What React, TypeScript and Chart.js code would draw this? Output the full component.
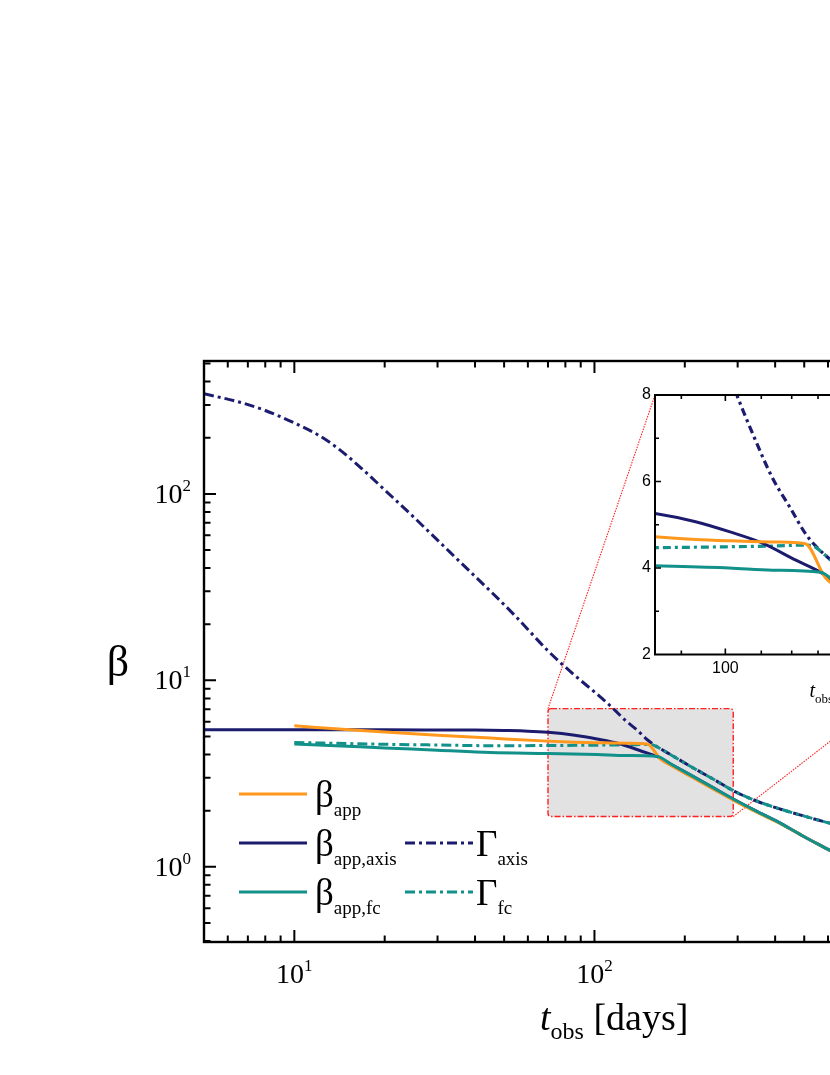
import React, { useEffect, useRef } from "react";
import { Chart, registerables } from "chart.js";

Chart.register(...registerables);

// values (t_obs in days)
const tApp = [10, 15.3, 20, 30, 45, 70, 86, 102, 130, 150, 166, 180, 210, 250, 294, 350, 420, 500, 611, 800];
const betaApp = [5.7, 5.43, 5.28, 5.08, 4.9, 4.72, 4.66, 4.63, 4.6, 4.56, 3.78, 3.5, 3.04, 2.6, 2.25, 1.95, 1.69, 1.45, 1.22, 0.96];

const tAxis = [5, 10, 20, 30, 40, 50, 60, 70, 86, 102, 121, 143, 162, 180, 210, 250, 294, 350, 420, 500, 611, 800];
const betaAxis = [5.43, 5.43, 5.43, 5.42, 5.41, 5.38, 5.34, 5.26, 5.07, 4.84, 4.57, 4.18, 3.9, 3.55, 3.09, 2.64, 2.28, 1.97, 1.7, 1.45, 1.22, 0.96];

const tFc = [10, 15, 20, 30, 45, 70, 102, 127, 162, 180, 210, 250, 294, 350, 420, 500, 611, 800];
const betaFc = [4.56, 4.43, 4.34, 4.22, 4.1, 4.05, 4.0, 3.95, 3.9, 3.55, 3.09, 2.64, 2.28, 1.97, 1.7, 1.45, 1.22, 0.96];

const tGammaAxis = [5, 6.5, 8, 10, 12, 14, 17, 20, 25, 30, 38, 45, 55, 70, 85, 106, 116, 127, 139, 150, 158, 165, 180, 210, 250, 294, 350, 420, 500, 611, 800];
const gammaAxis = [344, 312, 280, 240, 207, 175, 134, 105, 75, 56.5, 39.1, 30.1, 21.8, 14.4, 10.8, 8.0, 7.0, 6.08, 5.39, 4.8, 4.51, 4.32, 3.98, 3.44, 2.94, 2.53, 2.24, 2.03, 1.87, 1.71, 1.53];

const tGammaFc = [10, 15, 20, 30, 45, 70, 100, 130, 150, 158, 165, 180, 210, 250, 294, 350, 420, 500, 611, 800];
const gammaFc = [4.64, 4.58, 4.54, 4.5, 4.46, 4.47, 4.49, 4.51, 4.53, 4.48, 4.32, 3.98, 3.44, 2.94, 2.53, 2.24, 2.03, 1.87, 1.71, 1.53];

// axes
const xRange = [5, 2500];
const yRange = [0.395, 516];
const xMajorTicks = [10, 100, 1000];
const xTickExp = ["1", "2", "3"];
const yMajorTicks = [1, 10, 100];
const yTickExp = ["0", "1", "2"];

// zoomed region (grey box) and inset axes
const zoomT = [70, 290];
const zoomBeta = [1.86, 7.05];
const insetX = [70, 300];
const insetY = [2, 8];
const insetXMajor = [100, 200, 300];
const insetXMinor = [80, 120, 140, 160, 180, 220, 240, 260, 280];
const insetYMajor = [2, 4, 6, 8];
const insetYMinor = [3, 5, 7];

const ORANGE = "#ff981c";
const NAVY = "#1c1c6e";
const TEAL = "#12908a";
const RED = "#ff1f1f";

const SERIF = '"Liberation Serif", "Times New Roman", Times, serif';
const SANS = '"Liberation Sans", Arial, Helvetica, sans-serif';

const MAIN_W = 1100;
const MAIN_H = 1075;
const MAIN_AREA = { left: 204, top: 361, right: 1014, bottom: 942 };
const INSET = { left: 655, top: 395, right: 942, bottom: 654.5 };
const INSET_CANVAS = { x: 560, y: 370, w: 540, h: 360 };

type Run = { text: string; font: string; dy?: number };

function runsWidth(ctx: CanvasRenderingContext2D, runs: Run[]) {
  let w = 0;
  for (const r of runs) {
    ctx.font = r.font;
    w += ctx.measureText(r.text).width;
  }
  return w;
}

function drawRuns(ctx: CanvasRenderingContext2D, x: number, y: number, runs: Run[]) {
  let cx = x;
  for (const r of runs) {
    ctx.font = r.font;
    ctx.fillText(r.text, cx, y + (r.dy || 0));
    cx += ctx.measureText(r.text).width;
  }
}

function pts(xs: number[], ys: number[]) {
  return xs.map((x, i) => ({ x, y: ys[i] }));
}

function makeDatasets(solidW: number, dashW: number, dash: number[]) {
  return [
    { label: "β app,fc", data: pts(tFc, betaFc), borderColor: TEAL, borderWidth: solidW },
    { label: "β app", data: pts(tApp, betaApp), borderColor: ORANGE, borderWidth: solidW },
    { label: "β app,axis", data: pts(tAxis, betaAxis), borderColor: NAVY, borderWidth: solidW },
    { label: "Γ fc", data: pts(tGammaFc, gammaFc), borderColor: TEAL, borderWidth: dashW, borderDash: dash },
    { label: "Γ axis", data: pts(tGammaAxis, gammaAxis), borderColor: NAVY, borderWidth: dashW, borderDash: dash },
  ].map((d) => ({
    ...d,
    pointRadius: 0,
    fill: false,
    cubicInterpolationMode: "monotone" as const,
    borderJoinStyle: "round" as const,
  }));
}

function drawTicks(ctx: CanvasRenderingContext2D, a: any, xs: any, ys: any, xt: [number, number][], yt: [number, number][]) {
  ctx.beginPath();
  for (const [v, len] of xt) {
    const px = xs.getPixelForValue(v);
    if (px <= a.left + 1 || px >= a.right - 1) continue;
    ctx.moveTo(px, a.bottom);
    ctx.lineTo(px, a.bottom - len);
    ctx.moveTo(px, a.top);
    ctx.lineTo(px, a.top + len);
  }
  for (const [v, len] of yt) {
    const py = ys.getPixelForValue(v);
    if (py <= a.top + 1 || py >= a.bottom - 1) continue;
    ctx.moveTo(a.left, py);
    ctx.lineTo(a.left + len, py);
    ctx.moveTo(a.right, py);
    ctx.lineTo(a.right - len, py);
  }
  ctx.stroke();
}

function logTicks(lo: number, hi: number, major: number, minor: number): [number, number][] {
  const out: [number, number][] = [];
  for (let d = 0.1; d <= 1000; d *= 10) {
    for (let k = 1; k <= 9; k++) {
      const v = k * d;
      if (v > lo && v < hi) out.push([v, k === 1 ? major : minor]);
    }
  }
  return out;
}

const mainDecor = {
  id: "mainDecor",
  beforeDatasetsDraw(chart: any) {
    const { ctx, scales } = chart;
    const x = scales.x;
    const y = scales.y;
    const l = x.getPixelForValue(zoomT[0]);
    const r = x.getPixelForValue(zoomT[1]);
    const t = y.getPixelForValue(zoomBeta[1]);
    const b = y.getPixelForValue(zoomBeta[0]);
    ctx.save();
    ctx.fillStyle = "#e3e2e2";
    ctx.beginPath();
    ctx.roundRect(l, t, r - l, b - t, 3);
    ctx.fill();
    ctx.strokeStyle = RED;
    ctx.lineWidth = 1.4;
    ctx.setLineDash([6, 2, 1.5, 2]);
    ctx.stroke();
    // connectors to the inset
    ctx.setLineDash([1.5, 1.2]);
    ctx.lineWidth = 1.1;
    ctx.beginPath();
    ctx.moveTo(l, t);
    ctx.lineTo(INSET.left, INSET.top);
    ctx.moveTo(r, b);
    ctx.lineTo(INSET.right, INSET.bottom);
    ctx.stroke();
    ctx.restore();
  },
  afterDatasetsDraw(chart: any) {
    const { ctx, chartArea: a, scales } = chart;
    const x = scales.x;
    const y = scales.y;
    ctx.save();
    ctx.strokeStyle = "#000";
    ctx.fillStyle = "#000";
    ctx.lineWidth = 2;
    drawTicks(ctx, a, x, y, logTicks(xRange[0], xRange[1], 12, 6.5), logTicks(yRange[0], yRange[1], 12, 6.5));
    ctx.lineWidth = 2.4;
    ctx.strokeRect(a.left, a.top, a.right - a.left, a.bottom - a.top);

    // tick labels
    ctx.textBaseline = "alphabetic";
    ctx.textAlign = "left";
    xMajorTicks.forEach((v, i) => {
      const runs: Run[] = [
        { text: "10", font: `28px ${SERIF}` },
        { text: xTickExp[i], font: `17px ${SERIF}`, dy: -12 },
      ];
      const w = runsWidth(ctx, runs);
      const px = x.getPixelForValue(v);
      if (px > a.right) return;
      drawRuns(ctx, px - w / 2, a.bottom + 41, runs);
    });
    yMajorTicks.forEach((v, i) => {
      const runs: Run[] = [
        { text: "10", font: `28px ${SERIF}` },
        { text: yTickExp[i], font: `17px ${SERIF}`, dy: -12 },
      ];
      const w = runsWidth(ctx, runs);
      const py = y.getPixelForValue(v);
      drawRuns(ctx, a.left - 13 - w, py + 9, runs);
    });

    // axis titles
    drawRuns(ctx, 540, 1030, [
      { text: "t", font: `italic 38px ${SERIF}` },
      { text: "obs", font: `24px ${SERIF}`, dy: 9 },
      { text: " [days]", font: `38px ${SERIF}` },
    ]);
    ctx.font = `44px ${SERIF}`;
    ctx.textAlign = "center";
    ctx.textBaseline = "middle";
    ctx.fillText("β", 118, 664);

    // legend
    ctx.textAlign = "left";
    ctx.textBaseline = "alphabetic";
    const rows = [a.bottom - 148, a.bottom - 99, a.bottom - 50];
    const big = `37px ${SERIF}`;
    const sub = `19px ${SERIF}`;
    const items: { col: number; row: number; color: string; dash: number[]; sym: string; s: string }[] = [
      { col: 0, row: 0, color: ORANGE, dash: [], sym: "β", s: "app" },
      { col: 0, row: 1, color: NAVY, dash: [], sym: "β", s: "app,axis" },
      { col: 0, row: 2, color: TEAL, dash: [], sym: "β", s: "app,fc" },
      { col: 1, row: 1, color: NAVY, dash: [10, 4, 3, 4], sym: "Γ", s: "axis" },
      { col: 1, row: 2, color: TEAL, dash: [10, 4, 3, 4], sym: "Γ", s: "fc" },
    ];
    for (const it of items) {
      const x0 = a.left + (it.col === 0 ? 35 : 201);
      const yy = rows[it.row];
      ctx.strokeStyle = it.color;
      ctx.lineWidth = 3;
      ctx.setLineDash(it.dash);
      ctx.beginPath();
      ctx.moveTo(x0, yy);
      ctx.lineTo(x0 + 68, yy);
      ctx.stroke();
      ctx.setLineDash([]);
      drawRuns(ctx, x0 + (it.col === 0 ? 76 : 71), yy + 13, [
        { text: it.sym, font: big },
        { text: it.s, font: sub, dy: 9 },
      ]);
    }
    ctx.restore();
  },
};

const insetDecor = {
  id: "insetDecor",
  beforeDraw(chart: any) {
    const { ctx, chartArea: a } = chart;
    ctx.save();
    ctx.fillStyle = "#fff";
    ctx.fillRect(a.left, a.top, a.right - a.left, a.bottom - a.top);
    ctx.restore();
  },
  afterDatasetsDraw(chart: any) {
    const { ctx, chartArea: a, scales } = chart;
    const x = scales.x;
    const y = scales.y;
    ctx.save();
    ctx.strokeStyle = "#000";
    ctx.fillStyle = "#000";
    ctx.lineWidth = 1.6;
    const xt: [number, number][] = [
      ...insetXMajor.map((v) => [v, 6] as [number, number]),
      ...insetXMinor.map((v) => [v, 4] as [number, number]),
    ];
    const yt: [number, number][] = [
      ...insetYMajor.map((v) => [v, 6] as [number, number]),
      ...insetYMinor.map((v) => [v, 4] as [number, number]),
    ];
    drawTicks(ctx, a, x, y, xt, yt);
    ctx.lineWidth = 2;
    ctx.strokeRect(a.left, a.top, a.right - a.left, a.bottom - a.top);

    ctx.font = `16px ${SANS}`;
    ctx.textAlign = "right";
    ctx.textBaseline = "middle";
    insetYMajor.forEach((v) => ctx.fillText(String(v), a.left - 4, y.getPixelForValue(v)));
    ctx.textAlign = "center";
    ctx.textBaseline = "top";
    insetXMajor.forEach((v) => ctx.fillText(String(v), x.getPixelForValue(v), a.bottom + 6));

    ctx.textAlign = "left";
    ctx.textBaseline = "alphabetic";
    const cx = (a.left + a.right) / 2;
    drawRuns(ctx, cx + 11, a.bottom + 42, [
      { text: "t", font: `italic 20px ${SERIF}` },
      { text: "obs", font: `13px ${SERIF}`, dy: 6 },
      { text: " [days]", font: `20px ${SERIF}` },
    ]);
    ctx.restore();
  },
};

export default function App() {
  const mainRef = useRef<HTMLCanvasElement | null>(null);
  const insetRef = useRef<HTMLCanvasElement | null>(null);

  useEffect(() => {
    const mainCtx = mainRef.current?.getContext("2d");
    const insetCtx = insetRef.current?.getContext("2d");
    if (!mainCtx || !insetCtx) return;

    const main = new Chart(mainCtx, {
      type: "line",
      data: { datasets: makeDatasets(3, 3, [10, 4, 3, 4]) as any },
      options: {
        animation: false,
        responsive: false,
        events: [],
        layout: {
          padding: {
            left: MAIN_AREA.left,
            top: MAIN_AREA.top,
            right: MAIN_W - MAIN_AREA.right,
            bottom: MAIN_H - MAIN_AREA.bottom,
          },
        },
        plugins: { legend: { display: false }, tooltip: { enabled: false } },
        scales: {
          x: { type: "logarithmic", min: xRange[0], max: xRange[1], display: false },
          y: { type: "logarithmic", min: yRange[0], max: yRange[1], display: false },
        },
      },
      plugins: [mainDecor],
    });

    const inset = new Chart(insetCtx, {
      type: "line",
      data: { datasets: makeDatasets(3, 3.2, [8, 4, 3, 4]) as any },
      options: {
        animation: false,
        responsive: false,
        events: [],
        layout: {
          padding: {
            left: INSET.left - INSET_CANVAS.x,
            top: INSET.top - INSET_CANVAS.y,
            right: INSET_CANVAS.x + INSET_CANVAS.w - INSET.right,
            bottom: INSET_CANVAS.y + INSET_CANVAS.h - INSET.bottom,
          },
        },
        plugins: { legend: { display: false }, tooltip: { enabled: false } },
        scales: {
          x: { type: "logarithmic", min: insetX[0], max: insetX[1], display: false },
          y: { type: "linear", min: insetY[0], max: insetY[1], display: false },
        },
      },
      plugins: [insetDecor],
    });

    return () => {
      main.destroy();
      inset.destroy();
    };
  }, []);

  return (
    <div
      style={{
        position: "absolute",
        left: 0,
        top: 0,
        width: 830,
        height: 1075,
        overflow: "hidden",
        background: "#fff",
      }}
    >
      <canvas
        ref={mainRef}
        width={MAIN_W}
        height={MAIN_H}
        style={{ position: "absolute", left: 0, top: 0, width: MAIN_W, height: MAIN_H }}
      />
      <canvas
        ref={insetRef}
        width={INSET_CANVAS.w}
        height={INSET_CANVAS.h}
        style={{
          position: "absolute",
          left: INSET_CANVAS.x,
          top: INSET_CANVAS.y,
          width: INSET_CANVAS.w,
          height: INSET_CANVAS.h,
        }}
      />
    </div>
  );
}
